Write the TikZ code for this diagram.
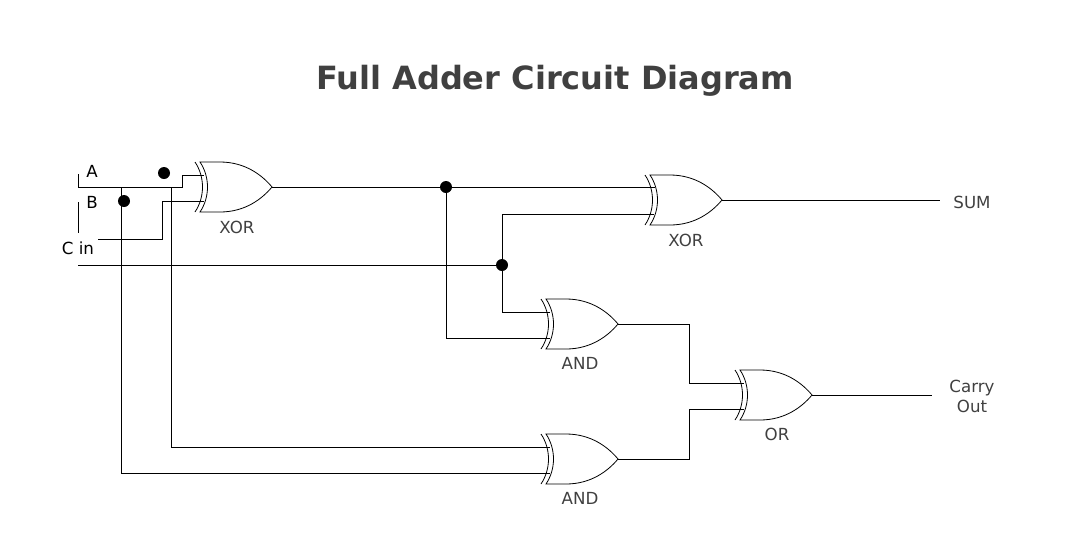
\documentclass[tikz,border=0pt]{standalone}
\usepackage{fontspec}
\setmainfont{DejaVu Sans}
\begin{document}
\begin{tikzpicture}[x=0.75pt,y=-0.75pt,line width=0.6pt,
  wire/.style={draw=black,line width=0.6pt},
  lbl/.style={font=\fontsize{12.5}{15}\selectfont,text=black!75},
  dot/.style={circle,fill=black,inner sep=0pt,minimum size=9pt}]
\useasboundingbox (0,0) rectangle (1072,551);
\newcommand\xorgate[3]{%
  \begin{scope}[shift={(#2,#3)}]
  \draw (0,-25) .. controls (10,-10) and (10,10) .. (0,25);
  \draw (5,-25) .. controls (15,-10) and (15,10) .. (5,25)
        -- (25,25) .. controls (50,25) and (67,12) .. (77,0)
        .. controls (67,-12) and (50,-25) .. (25,-25) -- cycle;
  \coordinate (#1-in1) at (9,-12);
  \coordinate (#1-in2) at (9,14);
  \coordinate (#1-out) at (77,0);
  \end{scope}}
\node[font=\bfseries\fontsize{24}{27}\selectfont,text=black!75] (title) at (555,81) {Full Adder Circuit Diagram};
\xorgate{x1}{195}{187}
\xorgate{x2}{645}{200}
\xorgate{a1}{541}{324}
\xorgate{a2}{541}{459}
\xorgate{o1}{735}{395}
\node[lbl] (lx1) at (237,227) {XOR};
\node[lbl] (lx2) at (686,240) {XOR};
\node[lbl] (la1) at (580,363) {AND};
\node[lbl] (la2) at (580,498) {AND};
\node[lbl] (lo1) at (777,434) {OR};
\node[lbl,text=black] (lA) at (92,171) {A};
\node[lbl,text=black] (lB) at (92,202) {B};
\node[lbl,text=black] (lC) at (78,248) {C in};
\node[lbl] (lsum) at (972,202) {SUM};
\node[lbl,align=center] (lco) at (972,396) {Carry\\Out};
\coordinate (aL) at (78,174);
\coordinate (aB) at (78,187);
\coordinate (aJ) at (182,187);
\draw[wire] (aL) -- (aB) -- (aJ) |- (x1-in1);
\coordinate (bT) at (78,202);
\coordinate (bB) at (78,233);
\draw[wire] (bT) -- (bB);
\coordinate (cS) at (98,239);
\coordinate (cJ) at (162,239);
\draw[wire] (cS) -- (cJ) |- (x1-in2);
\coordinate (cinS) at (78,265);
\node[dot] (d3) at (502,265) {};
\draw[wire] (cinS) -- (d3);
\draw[wire] (d3) |- (x2-in2);
\draw[wire] (d3) |- (a1-in1);
\node[dot] (d1) at (446,187) {};
\draw[wire] (x1-out) -- (d1) -- (x2-in1 |- d1) -- (x2-in1);
\draw[wire] (d1) |- (a1-in2);
\coordinate (v1) at (121,187);
\coordinate (v2) at (171,187);
\draw[wire] (v2) |- (a2-in1);
\draw[wire] (v1) |- (a2-in2);
\node[dot] (d2) at (124,201) {};
\node[dot] (d4) at (164,173) {};
\coordinate (m) at (689,324);
\draw[wire] (a1-out) -- (m) |- (o1-in1);
\draw[wire] (a2-out) -| (m |- a2-out) |- (o1-in2);
\coordinate (sumE) at (940,200);
\coordinate (coE) at (932,395);
\draw[wire] (x2-out) -- (sumE);
\draw[wire] (o1-out) -- (coE);
\end{tikzpicture}
\end{document}
